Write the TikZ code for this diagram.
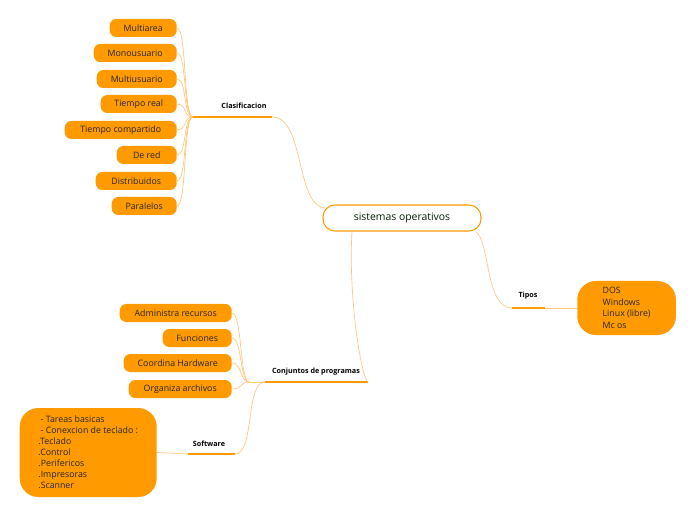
\documentclass[tikz,border=0pt]{standalone}
\usepackage{fontspec}
\setmainfont{Open Sans}
\begin{document}
\begin{tikzpicture}[x=0.75pt,y=-0.75pt,
  leaf/.style={fill=or,rounded corners=5pt,minimum height=13.5pt,inner xsep=0pt,font=\fontsize{6.6}{8}\selectfont,text=black!85},
  lbl/.style={font=\bfseries\fontsize{5.4}{7}\selectfont,text=black},
  con/.style={draw=lo,line width=0.5pt},
  uline/.style={draw=or,line width=0.9pt}]
\definecolor{or}{HTML}{FF9A00}
\definecolor{lo}{HTML}{FFC77A}
\useasboundingbox (0,0) rectangle (696,520);
\fill[white] (0,0) rectangle (696,520);
% central
\node[draw=or,line width=0.8pt,fill=white,rounded corners=9pt,minimum width=118.5pt,minimum height=19.5pt,font=\fontsize{7.8}{9}\selectfont,text=black!80!green!60!black] (c) at (402,218) {sistemas operativos};
% Clasificacion
\coordinate (cl1) at (193,117); \coordinate (cl2) at (272,117);
\node[lbl] (cl) at (244,106) {Clasificacion};
\draw[uline] (cl1) -- (cl2);
\draw[con] (cl2) .. controls (305,117) and (295,205) .. (325,208);
\foreach \n/\t/\w/\y in {a/Multiarea/67/28,b/Monousuario/83/53,d/Multiusuario/80/79,e/Tiempo real/76/104,f/Tiempo compartido/112/130,g/De red/60/155,h/Distribuidos/81/181,i/Paralelos/65/206}{
  \node[leaf,minimum width=\w*0.75pt,anchor=east] (\n) at (177,\y) {\t};
  \draw[con] (cl1) .. controls (183,117) and (187,\y) .. (\n.east);
}
% Tipos
\coordinate (t1) at (512,308); \coordinate (t2) at (545,308);
\node[lbl] (t) at (528,296) {Tipos};
\draw[uline] (t1) -- (t2);
\draw[con] (c.south east) ++(-6,0) coordinate (cse);
\draw[con] (cse) .. controls (490,240) and (485,308) .. (t1);
\node[fill=or,rounded corners=14pt,minimum width=74pt,minimum height=40.5pt,anchor=west,align=left,font=\fontsize{6.6}{8.6}\selectfont,text=black!85,inner xsep=18pt] (tb) at (577,308) {DOS\\Windows\\Linux (libre)\\Mc os};
\draw[con] (t2) -- (tb.west);
% Conjuntos
\coordinate (p1) at (265,382); \coordinate (p2) at (368,382);
\node[lbl] (p) at (316,372) {Conjuntos de programas};
\draw[uline] (p1) -- (p2);
\draw[con] (352,231) .. controls (348,300) and (362,380) .. (p2);
\coordinate (pj) at (249,382);
\draw[con] (p1) -- (pj);
\foreach \n/\t/\w/\y in {ar/Administra recursos/112/313,fu/Funciones/69/338,co/Coordina Hardware/108/363,oa/Organiza archivos/103/389}{
  \node[leaf,minimum width=\w*0.75pt,anchor=east] (\n) at (232,\y) {\t};
  \draw[con] (pj) .. controls (240,382) and (242,\y) .. (\n.east);
}
% Software
\coordinate (s1) at (188,454); \coordinate (s2) at (235,454);
\node[lbl] (s) at (209,444) {Software};
\draw[uline] (s1) -- (s2);
\draw[con] (s2) .. controls (255,454) and (245,382) .. (p1);
\node[fill=or,rounded corners=14pt,minimum width=102.75pt,minimum height=66.75pt,anchor=east,align=left,font=\fontsize{6.6}{8.3}\selectfont,text=black!85,inner xsep=12pt] (sb) at (157,452.5) {\ - Tareas basicas\\\ - Conexcion de teclado :\\.Teclado\\.Control\\.Perifericos\\.Impresoras\\.Scanner};
\draw[con] (s1) -- (sb.east);
\end{tikzpicture}
\end{document}
